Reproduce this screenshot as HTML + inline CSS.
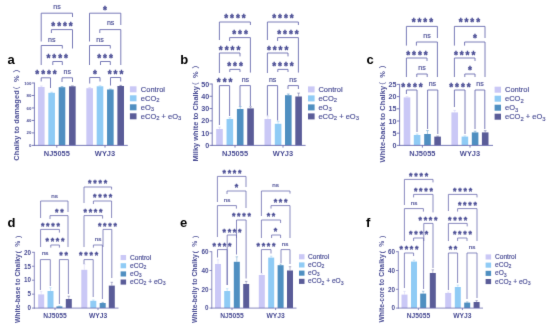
<!DOCTYPE html>
<html><head><meta charset="utf-8"><title>Chalkiness figure</title>
<style>html,body{margin:0;padding:0;background:#fff}svg{display:block}text{font-family:"Liberation Sans","Noto Sans CJK SC",sans-serif;}</style>
</head><body>
<svg width="550" height="330" viewBox="0 0 550 330">
<defs><filter id="soft" x="0" y="0" width="550" height="330" filterUnits="userSpaceOnUse" color-interpolation-filters="sRGB"><feConvolveMatrix order="3" kernelMatrix="0.0074 0.0713 0.0074 0.0713 0.6853 0.0713 0.0074 0.0713 0.0074" edgeMode="duplicate" preserveAlpha="true"/></filter></defs>
<g filter="url(#soft)">
<rect width="550" height="330" fill="#ffffff"/>
<line x1="41.3" y1="87" x2="41.3" y2="86" stroke="#cac8f6" stroke-width="0.5"/>
<line x1="39.9" y1="86" x2="42.7" y2="86" stroke="#cac8f6" stroke-width="0.5"/>
<rect x="38" y="87" width="6.6" height="58.4" fill="#cac8f6"/>
<line x1="51.65" y1="92.8" x2="51.65" y2="92.2" stroke="#8fcbf5" stroke-width="0.5"/>
<line x1="50.25" y1="92.2" x2="53.05" y2="92.2" stroke="#8fcbf5" stroke-width="0.5"/>
<rect x="48.35" y="92.8" width="6.6" height="52.6" fill="#8fcbf5"/>
<line x1="62" y1="87.2" x2="62" y2="86.6" stroke="#4f8fc1" stroke-width="0.5"/>
<line x1="60.6" y1="86.6" x2="63.4" y2="86.6" stroke="#4f8fc1" stroke-width="0.5"/>
<rect x="58.7" y="87.2" width="6.6" height="58.2" fill="#4f8fc1"/>
<line x1="72.35" y1="86.3" x2="72.35" y2="85.9" stroke="#5a5c98" stroke-width="0.5"/>
<line x1="70.95" y1="85.9" x2="73.75" y2="85.9" stroke="#5a5c98" stroke-width="0.5"/>
<rect x="69.05" y="86.3" width="6.6" height="59.1" fill="#5a5c98"/>
<line x1="89.65" y1="88.2" x2="89.65" y2="87.6" stroke="#cac8f6" stroke-width="0.5"/>
<line x1="88.25" y1="87.6" x2="91.05" y2="87.6" stroke="#cac8f6" stroke-width="0.5"/>
<rect x="86.35" y="88.2" width="6.6" height="57.2" fill="#cac8f6"/>
<line x1="100" y1="86.3" x2="100" y2="85.8" stroke="#8fcbf5" stroke-width="0.5"/>
<line x1="98.6" y1="85.8" x2="101.4" y2="85.8" stroke="#8fcbf5" stroke-width="0.5"/>
<rect x="96.7" y="86.3" width="6.6" height="59.1" fill="#8fcbf5"/>
<line x1="110.35" y1="89.5" x2="110.35" y2="89.1" stroke="#4f8fc1" stroke-width="0.5"/>
<line x1="108.95" y1="89.1" x2="111.75" y2="89.1" stroke="#4f8fc1" stroke-width="0.5"/>
<rect x="107.05" y="89.5" width="6.6" height="55.9" fill="#4f8fc1"/>
<line x1="120.7" y1="86" x2="120.7" y2="85.4" stroke="#5a5c98" stroke-width="0.5"/>
<line x1="119.3" y1="85.4" x2="122.1" y2="85.4" stroke="#5a5c98" stroke-width="0.5"/>
<rect x="117.4" y="86" width="6.6" height="59.4" fill="#5a5c98"/>
<line x1="34.4" y1="82.55" x2="34.4" y2="145.85" stroke="#6b6db0" stroke-width="0.9"/>
<line x1="33.95" y1="145.4" x2="127.8" y2="145.4" stroke="#6b6db0" stroke-width="0.9"/>
<line x1="31.8" y1="145.4" x2="34.4" y2="145.4" stroke="#6b6db0" stroke-width="0.9"/>
<text x="31.4" y="146.95" font-size="4.3" text-anchor="end" font-weight="bold" fill="#494c94">0</text>
<line x1="31.8" y1="132.92" x2="34.4" y2="132.92" stroke="#6b6db0" stroke-width="0.9"/>
<text x="31.4" y="134.47" font-size="4.3" text-anchor="end" font-weight="bold" fill="#494c94">20</text>
<line x1="31.8" y1="120.44" x2="34.4" y2="120.44" stroke="#6b6db0" stroke-width="0.9"/>
<text x="31.4" y="121.99" font-size="4.3" text-anchor="end" font-weight="bold" fill="#494c94">40</text>
<line x1="31.8" y1="107.96" x2="34.4" y2="107.96" stroke="#6b6db0" stroke-width="0.9"/>
<text x="31.4" y="109.51" font-size="4.3" text-anchor="end" font-weight="bold" fill="#494c94">60</text>
<line x1="31.8" y1="95.48" x2="34.4" y2="95.48" stroke="#6b6db0" stroke-width="0.9"/>
<text x="31.4" y="97.03" font-size="4.3" text-anchor="end" font-weight="bold" fill="#494c94">80</text>
<line x1="31.8" y1="83" x2="34.4" y2="83" stroke="#6b6db0" stroke-width="0.9"/>
<text x="31.4" y="84.55" font-size="4.3" text-anchor="end" font-weight="bold" fill="#494c94">100</text>
<line x1="56.8" y1="145.4" x2="56.8" y2="147.6" stroke="#6b6db0" stroke-width="0.9"/>
<text x="56.8" y="155.6" font-size="7.45" text-anchor="middle" font-weight="bold" fill="#494c94">NJ5055</text>
<line x1="105" y1="145.4" x2="105" y2="147.6" stroke="#6b6db0" stroke-width="0.9"/>
<text x="105" y="155.6" font-size="7.45" text-anchor="middle" font-weight="bold" fill="#494c94">WYJ3</text>
<text transform="translate(19.3 160.7) rotate(-90)" font-size="7.45" font-weight="bold" fill="#494c94" textLength="70.4" lengthAdjust="spacing">Chalky to damaged</text>
<g transform="translate(19.3 90.2) rotate(-90)" font-size="7.45" fill="#494c94"><text x="-3.56" y="1" font-weight="bold">（</text><text x="8.12" y="0" font-weight="bold">%</text><text x="17.38" y="1" font-weight="bold">）</text></g>
<path d="M41.2 41.5V13.2H72.5V17" fill="none" stroke="#6b6db0" stroke-width="0.9"/>
<text x="57" y="9.42" font-size="7" text-anchor="middle" fill="#494c94" stroke="#494c94" stroke-width="0.15">ns</text>
<path d="M51.4 33V29.6H72.5V48.5" fill="none" stroke="#6b6db0" stroke-width="0.9"/>
<text x="53.23" y="30.2" font-size="10" text-anchor="middle" font-weight="bold" fill="#494c94" stroke="#494c94" stroke-width="0.35">*</text>
<text x="59.08" y="30.2" font-size="10" text-anchor="middle" font-weight="bold" fill="#494c94" stroke="#494c94" stroke-width="0.35">*</text>
<text x="64.92" y="30.2" font-size="10" text-anchor="middle" font-weight="bold" fill="#494c94" stroke="#494c94" stroke-width="0.35">*</text>
<text x="70.78" y="30.2" font-size="10" text-anchor="middle" font-weight="bold" fill="#494c94" stroke="#494c94" stroke-width="0.35">*</text>
<path d="M41.2 65V45.5H62.3V48.5" fill="none" stroke="#6b6db0" stroke-width="0.9"/>
<text x="51.8" y="41.82" font-size="7" text-anchor="middle" fill="#494c94" stroke="#494c94" stroke-width="0.15">ns</text>
<path d="M52.8 65V61.5H62.3V65" fill="none" stroke="#6b6db0" stroke-width="0.9"/>
<text x="48.43" y="62.2" font-size="10" text-anchor="middle" font-weight="bold" fill="#494c94" stroke="#494c94" stroke-width="0.35">*</text>
<text x="54.28" y="62.2" font-size="10" text-anchor="middle" font-weight="bold" fill="#494c94" stroke="#494c94" stroke-width="0.35">*</text>
<text x="60.12" y="62.2" font-size="10" text-anchor="middle" font-weight="bold" fill="#494c94" stroke="#494c94" stroke-width="0.35">*</text>
<text x="65.97" y="62.2" font-size="10" text-anchor="middle" font-weight="bold" fill="#494c94" stroke="#494c94" stroke-width="0.35">*</text>
<path d="M41.2 81.5V77.8H50.5V88" fill="none" stroke="#6b6db0" stroke-width="0.9"/>
<text x="37.23" y="78.4" font-size="10" text-anchor="middle" font-weight="bold" fill="#494c94" stroke="#494c94" stroke-width="0.35">*</text>
<text x="43.08" y="78.4" font-size="10" text-anchor="middle" font-weight="bold" fill="#494c94" stroke="#494c94" stroke-width="0.35">*</text>
<text x="48.92" y="78.4" font-size="10" text-anchor="middle" font-weight="bold" fill="#494c94" stroke="#494c94" stroke-width="0.35">*</text>
<text x="54.77" y="78.4" font-size="10" text-anchor="middle" font-weight="bold" fill="#494c94" stroke="#494c94" stroke-width="0.35">*</text>
<path d="M62 82V77.8H72.5V82" fill="none" stroke="#6b6db0" stroke-width="0.9"/>
<text x="67.2" y="74.32" font-size="7" text-anchor="middle" fill="#494c94" stroke="#494c94" stroke-width="0.15">ns</text>
<path d="M89.5 41.5V13.2H120.8V25" fill="none" stroke="#6b6db0" stroke-width="0.9"/>
<text x="105" y="13.8" font-size="10" text-anchor="middle" font-weight="bold" fill="#494c94" stroke="#494c94" stroke-width="0.35">*</text>
<path d="M99.8 33V29.6H120.8V65" fill="none" stroke="#6b6db0" stroke-width="0.9"/>
<text x="110.6" y="25.42" font-size="7" text-anchor="middle" fill="#494c94" stroke="#494c94" stroke-width="0.15">ns</text>
<path d="M89.5 65V45.5H110.3V48.5" fill="none" stroke="#6b6db0" stroke-width="0.9"/>
<text x="100" y="41.82" font-size="7" text-anchor="middle" fill="#494c94" stroke="#494c94" stroke-width="0.15">ns</text>
<path d="M100.5 65V61.5H110.3V65" fill="none" stroke="#6b6db0" stroke-width="0.9"/>
<text x="99.15" y="62.2" font-size="10" text-anchor="middle" font-weight="bold" fill="#494c94" stroke="#494c94" stroke-width="0.35">*</text>
<text x="105" y="62.2" font-size="10" text-anchor="middle" font-weight="bold" fill="#494c94" stroke="#494c94" stroke-width="0.35">*</text>
<text x="110.85" y="62.2" font-size="10" text-anchor="middle" font-weight="bold" fill="#494c94" stroke="#494c94" stroke-width="0.35">*</text>
<path d="M89.7 83.5V77.5H100V81.5" fill="none" stroke="#6b6db0" stroke-width="0.9"/>
<text x="95" y="78.2" font-size="10" text-anchor="middle" font-weight="bold" fill="#494c94" stroke="#494c94" stroke-width="0.35">*</text>
<path d="M110.5 85.5V77.5H120.7V81.5" fill="none" stroke="#6b6db0" stroke-width="0.9"/>
<text x="109.65" y="78.2" font-size="10" text-anchor="middle" font-weight="bold" fill="#494c94" stroke="#494c94" stroke-width="0.35">*</text>
<text x="115.5" y="78.2" font-size="10" text-anchor="middle" font-weight="bold" fill="#494c94" stroke="#494c94" stroke-width="0.35">*</text>
<text x="121.35" y="78.2" font-size="10" text-anchor="middle" font-weight="bold" fill="#494c94" stroke="#494c94" stroke-width="0.35">*</text>
<rect x="129.9" y="86.3" width="6.6" height="6" fill="#cac8f6"/>
<text x="140.8" y="91.6" font-size="7.5" text-anchor="start" fill="#494c94" stroke="#494c94" stroke-width="0.15">Control</text>
<rect x="129.9" y="95.3" width="6.6" height="6" fill="#8fcbf5"/>
<text x="140.8" y="100.6" font-size="7.5" text-anchor="start" fill="#494c94" stroke="#494c94" stroke-width="0.15">eCO<tspan font-size="5.85" dy="1.5">2</tspan></text>
<rect x="129.9" y="104.3" width="6.6" height="6" fill="#4f8fc1"/>
<text x="140.8" y="109.6" font-size="7.5" text-anchor="start" fill="#494c94" stroke="#494c94" stroke-width="0.15">eO<tspan font-size="5.85" dy="1.5">3</tspan></text>
<rect x="129.9" y="113.3" width="6.6" height="6" fill="#5a5c98"/>
<text x="140.8" y="118.6" font-size="7.5" text-anchor="start" fill="#494c94" stroke="#494c94" stroke-width="0.15">eCO<tspan font-size="5.85" dy="1.5">2</tspan><tspan dy="-1.5"> + eO</tspan><tspan font-size="5.85" dy="1.5">3</tspan></text>
<text x="7.5" y="63.7" font-size="13" text-anchor="start" font-weight="bold" fill="#000">a</text>
<line x1="219.5" y1="129" x2="219.5" y2="127.2" stroke="#cac8f6" stroke-width="0.5"/>
<line x1="218.1" y1="127.2" x2="220.9" y2="127.2" stroke="#cac8f6" stroke-width="0.5"/>
<rect x="216.2" y="129" width="6.6" height="16.4" fill="#cac8f6"/>
<line x1="229.85" y1="119" x2="229.85" y2="117.8" stroke="#8fcbf5" stroke-width="0.5"/>
<line x1="228.45" y1="117.8" x2="231.25" y2="117.8" stroke="#8fcbf5" stroke-width="0.5"/>
<rect x="226.55" y="119" width="6.6" height="26.4" fill="#8fcbf5"/>
<line x1="240.2" y1="109" x2="240.2" y2="106.5" stroke="#4f8fc1" stroke-width="0.5"/>
<line x1="238.8" y1="106.5" x2="241.6" y2="106.5" stroke="#4f8fc1" stroke-width="0.5"/>
<rect x="236.9" y="109" width="6.6" height="36.4" fill="#4f8fc1"/>
<line x1="250.55" y1="108.4" x2="250.55" y2="106.8" stroke="#5a5c98" stroke-width="0.5"/>
<line x1="249.15" y1="106.8" x2="251.95" y2="106.8" stroke="#5a5c98" stroke-width="0.5"/>
<rect x="247.25" y="108.4" width="6.6" height="37" fill="#5a5c98"/>
<line x1="267.8" y1="119" x2="267.8" y2="116" stroke="#cac8f6" stroke-width="0.5"/>
<line x1="266.4" y1="116" x2="269.2" y2="116" stroke="#cac8f6" stroke-width="0.5"/>
<rect x="264.5" y="119" width="6.6" height="26.4" fill="#cac8f6"/>
<line x1="278.1" y1="123.8" x2="278.1" y2="121.3" stroke="#8fcbf5" stroke-width="0.5"/>
<line x1="276.7" y1="121.3" x2="279.5" y2="121.3" stroke="#8fcbf5" stroke-width="0.5"/>
<rect x="274.8" y="123.8" width="6.6" height="21.6" fill="#8fcbf5"/>
<line x1="288.3" y1="95.2" x2="288.3" y2="94" stroke="#4f8fc1" stroke-width="0.5"/>
<line x1="286.9" y1="94" x2="289.7" y2="94" stroke="#4f8fc1" stroke-width="0.5"/>
<rect x="285" y="95.2" width="6.6" height="50.2" fill="#4f8fc1"/>
<line x1="298.6" y1="96.5" x2="298.6" y2="93.1" stroke="#5a5c98" stroke-width="0.5"/>
<line x1="297.2" y1="93.1" x2="300" y2="93.1" stroke="#5a5c98" stroke-width="0.5"/>
<rect x="295.3" y="96.5" width="6.6" height="48.9" fill="#5a5c98"/>
<line x1="212.2" y1="83.55" x2="212.2" y2="145.85" stroke="#6b6db0" stroke-width="0.9"/>
<line x1="211.75" y1="145.4" x2="305.6" y2="145.4" stroke="#6b6db0" stroke-width="0.9"/>
<line x1="209.6" y1="145.4" x2="212.2" y2="145.4" stroke="#6b6db0" stroke-width="0.9"/>
<text x="209.2" y="147.99" font-size="7.2" text-anchor="end" font-weight="bold" fill="#494c94">0</text>
<line x1="209.6" y1="133.12" x2="212.2" y2="133.12" stroke="#6b6db0" stroke-width="0.9"/>
<text x="209.2" y="135.71" font-size="7.2" text-anchor="end" font-weight="bold" fill="#494c94">10</text>
<line x1="209.6" y1="120.84" x2="212.2" y2="120.84" stroke="#6b6db0" stroke-width="0.9"/>
<text x="209.2" y="123.43" font-size="7.2" text-anchor="end" font-weight="bold" fill="#494c94">20</text>
<line x1="209.6" y1="108.56" x2="212.2" y2="108.56" stroke="#6b6db0" stroke-width="0.9"/>
<text x="209.2" y="111.15" font-size="7.2" text-anchor="end" font-weight="bold" fill="#494c94">30</text>
<line x1="209.6" y1="96.28" x2="212.2" y2="96.28" stroke="#6b6db0" stroke-width="0.9"/>
<text x="209.2" y="98.87" font-size="7.2" text-anchor="end" font-weight="bold" fill="#494c94">40</text>
<line x1="209.6" y1="84" x2="212.2" y2="84" stroke="#6b6db0" stroke-width="0.9"/>
<text x="209.2" y="86.59" font-size="7.2" text-anchor="end" font-weight="bold" fill="#494c94">50</text>
<line x1="235" y1="145.4" x2="235" y2="147.6" stroke="#6b6db0" stroke-width="0.9"/>
<text x="235" y="155.6" font-size="7.45" text-anchor="middle" font-weight="bold" fill="#494c94">NJ5055</text>
<line x1="283" y1="145.4" x2="283" y2="147.6" stroke="#6b6db0" stroke-width="0.9"/>
<text x="283" y="155.6" font-size="7.45" text-anchor="middle" font-weight="bold" fill="#494c94">WYJ3</text>
<text transform="translate(197.9 161.4) rotate(-90)" font-size="7.45" font-weight="bold" fill="#494c94" textLength="75.3" lengthAdjust="spacing">Milky white to Chalky</text>
<g transform="translate(197.9 86) rotate(-90)" font-size="7.45" fill="#494c94"><text x="-3.56" y="1" font-weight="bold">（</text><text x="8.12" y="0" font-weight="bold">%</text><text x="17.38" y="1" font-weight="bold">）</text></g>
<path d="M219.4 40V22H250.4V25" fill="none" stroke="#6b6db0" stroke-width="0.9"/>
<text x="226.22" y="21.8" font-size="10" text-anchor="middle" font-weight="bold" fill="#494c94" stroke="#494c94" stroke-width="0.35">*</text>
<text x="232.07" y="21.8" font-size="10" text-anchor="middle" font-weight="bold" fill="#494c94" stroke="#494c94" stroke-width="0.35">*</text>
<text x="237.93" y="21.8" font-size="10" text-anchor="middle" font-weight="bold" fill="#494c94" stroke="#494c94" stroke-width="0.35">*</text>
<text x="243.78" y="21.8" font-size="10" text-anchor="middle" font-weight="bold" fill="#494c94" stroke="#494c94" stroke-width="0.35">*</text>
<path d="M229.6 41V37.6H250.4V72.6" fill="none" stroke="#6b6db0" stroke-width="0.9"/>
<text x="234.15" y="37.6" font-size="10" text-anchor="middle" font-weight="bold" fill="#494c94" stroke="#494c94" stroke-width="0.35">*</text>
<text x="240" y="37.6" font-size="10" text-anchor="middle" font-weight="bold" fill="#494c94" stroke="#494c94" stroke-width="0.35">*</text>
<text x="245.85" y="37.6" font-size="10" text-anchor="middle" font-weight="bold" fill="#494c94" stroke="#494c94" stroke-width="0.35">*</text>
<path d="M219.4 73V53H240V56.4" fill="none" stroke="#6b6db0" stroke-width="0.9"/>
<text x="220.82" y="53.8" font-size="10" text-anchor="middle" font-weight="bold" fill="#494c94" stroke="#494c94" stroke-width="0.35">*</text>
<text x="226.67" y="53.8" font-size="10" text-anchor="middle" font-weight="bold" fill="#494c94" stroke="#494c94" stroke-width="0.35">*</text>
<text x="232.53" y="53.8" font-size="10" text-anchor="middle" font-weight="bold" fill="#494c94" stroke="#494c94" stroke-width="0.35">*</text>
<text x="238.38" y="53.8" font-size="10" text-anchor="middle" font-weight="bold" fill="#494c94" stroke="#494c94" stroke-width="0.35">*</text>
<path d="M229.8 72V69.4H240V72" fill="none" stroke="#6b6db0" stroke-width="0.9"/>
<text x="229.15" y="70.2" font-size="10" text-anchor="middle" font-weight="bold" fill="#494c94" stroke="#494c94" stroke-width="0.35">*</text>
<text x="235" y="70.2" font-size="10" text-anchor="middle" font-weight="bold" fill="#494c94" stroke="#494c94" stroke-width="0.35">*</text>
<text x="240.85" y="70.2" font-size="10" text-anchor="middle" font-weight="bold" fill="#494c94" stroke="#494c94" stroke-width="0.35">*</text>
<path d="M219.4 125V85.6H229.6V116" fill="none" stroke="#6b6db0" stroke-width="0.9"/>
<text x="218.75" y="86.2" font-size="10" text-anchor="middle" font-weight="bold" fill="#494c94" stroke="#494c94" stroke-width="0.35">*</text>
<text x="224.6" y="86.2" font-size="10" text-anchor="middle" font-weight="bold" fill="#494c94" stroke="#494c94" stroke-width="0.35">*</text>
<text x="230.45" y="86.2" font-size="10" text-anchor="middle" font-weight="bold" fill="#494c94" stroke="#494c94" stroke-width="0.35">*</text>
<path d="M240 106V85.6H250.4V106" fill="none" stroke="#6b6db0" stroke-width="0.9"/>
<text x="245.4" y="81.82" font-size="7" text-anchor="middle" fill="#494c94" stroke="#494c94" stroke-width="0.15">ns</text>
<path d="M267.4 40V22H298.4V25" fill="none" stroke="#6b6db0" stroke-width="0.9"/>
<text x="274.23" y="21.8" font-size="10" text-anchor="middle" font-weight="bold" fill="#494c94" stroke="#494c94" stroke-width="0.35">*</text>
<text x="280.07" y="21.8" font-size="10" text-anchor="middle" font-weight="bold" fill="#494c94" stroke="#494c94" stroke-width="0.35">*</text>
<text x="285.93" y="21.8" font-size="10" text-anchor="middle" font-weight="bold" fill="#494c94" stroke="#494c94" stroke-width="0.35">*</text>
<text x="291.77" y="21.8" font-size="10" text-anchor="middle" font-weight="bold" fill="#494c94" stroke="#494c94" stroke-width="0.35">*</text>
<path d="M277.6 41V37.6H298.4V72.6" fill="none" stroke="#6b6db0" stroke-width="0.9"/>
<text x="279.23" y="37.6" font-size="10" text-anchor="middle" font-weight="bold" fill="#494c94" stroke="#494c94" stroke-width="0.35">*</text>
<text x="285.07" y="37.6" font-size="10" text-anchor="middle" font-weight="bold" fill="#494c94" stroke="#494c94" stroke-width="0.35">*</text>
<text x="290.93" y="37.6" font-size="10" text-anchor="middle" font-weight="bold" fill="#494c94" stroke="#494c94" stroke-width="0.35">*</text>
<text x="296.77" y="37.6" font-size="10" text-anchor="middle" font-weight="bold" fill="#494c94" stroke="#494c94" stroke-width="0.35">*</text>
<path d="M267.4 73V53H288V56.4" fill="none" stroke="#6b6db0" stroke-width="0.9"/>
<text x="268.83" y="53.8" font-size="10" text-anchor="middle" font-weight="bold" fill="#494c94" stroke="#494c94" stroke-width="0.35">*</text>
<text x="274.68" y="53.8" font-size="10" text-anchor="middle" font-weight="bold" fill="#494c94" stroke="#494c94" stroke-width="0.35">*</text>
<text x="280.53" y="53.8" font-size="10" text-anchor="middle" font-weight="bold" fill="#494c94" stroke="#494c94" stroke-width="0.35">*</text>
<text x="286.38" y="53.8" font-size="10" text-anchor="middle" font-weight="bold" fill="#494c94" stroke="#494c94" stroke-width="0.35">*</text>
<path d="M277.8 72V69.4H288V72" fill="none" stroke="#6b6db0" stroke-width="0.9"/>
<text x="274.23" y="70.2" font-size="10" text-anchor="middle" font-weight="bold" fill="#494c94" stroke="#494c94" stroke-width="0.35">*</text>
<text x="280.07" y="70.2" font-size="10" text-anchor="middle" font-weight="bold" fill="#494c94" stroke="#494c94" stroke-width="0.35">*</text>
<text x="285.93" y="70.2" font-size="10" text-anchor="middle" font-weight="bold" fill="#494c94" stroke="#494c94" stroke-width="0.35">*</text>
<text x="291.77" y="70.2" font-size="10" text-anchor="middle" font-weight="bold" fill="#494c94" stroke="#494c94" stroke-width="0.35">*</text>
<path d="M267.4 115.5V85.6H277.6V120.5" fill="none" stroke="#6b6db0" stroke-width="0.9"/>
<text x="272.6" y="81.82" font-size="7" text-anchor="middle" fill="#494c94" stroke="#494c94" stroke-width="0.15">ns</text>
<path d="M288 89V85.6H298.4V89" fill="none" stroke="#6b6db0" stroke-width="0.9"/>
<text x="293" y="81.82" font-size="7" text-anchor="middle" fill="#494c94" stroke="#494c94" stroke-width="0.15">ns</text>
<rect x="308" y="86.4" width="6.6" height="6" fill="#cac8f6"/>
<text x="318.4" y="91.7" font-size="7.5" text-anchor="start" fill="#494c94" stroke="#494c94" stroke-width="0.15">Control</text>
<rect x="308" y="95.4" width="6.6" height="6" fill="#8fcbf5"/>
<text x="318.4" y="100.7" font-size="7.5" text-anchor="start" fill="#494c94" stroke="#494c94" stroke-width="0.15">eCO<tspan font-size="5.85" dy="1.5">2</tspan></text>
<rect x="308" y="104.4" width="6.6" height="6" fill="#4f8fc1"/>
<text x="318.4" y="109.7" font-size="7.5" text-anchor="start" fill="#494c94" stroke="#494c94" stroke-width="0.15">eO<tspan font-size="5.85" dy="1.5">3</tspan></text>
<rect x="308" y="113.4" width="6.6" height="6" fill="#5a5c98"/>
<text x="318.4" y="118.7" font-size="7.5" text-anchor="start" fill="#494c94" stroke="#494c94" stroke-width="0.15">eCO<tspan font-size="5.85" dy="1.5">2</tspan><tspan dy="-1.5"> + eO</tspan><tspan font-size="5.85" dy="1.5">3</tspan></text>
<text x="180.2" y="63.7" font-size="13" text-anchor="start" font-weight="bold" fill="#000">b</text>
<line x1="407" y1="97.4" x2="407" y2="96.7" stroke="#cac8f6" stroke-width="0.5"/>
<line x1="405.6" y1="96.7" x2="408.4" y2="96.7" stroke="#cac8f6" stroke-width="0.5"/>
<rect x="403.7" y="97.4" width="6.6" height="48" fill="#cac8f6"/>
<line x1="417.1" y1="135" x2="417.1" y2="134" stroke="#8fcbf5" stroke-width="0.5"/>
<line x1="415.7" y1="134" x2="418.5" y2="134" stroke="#8fcbf5" stroke-width="0.5"/>
<rect x="413.8" y="135" width="6.6" height="10.4" fill="#8fcbf5"/>
<line x1="427.5" y1="134" x2="427.5" y2="130.6" stroke="#4f8fc1" stroke-width="0.5"/>
<line x1="426.1" y1="130.6" x2="428.9" y2="130.6" stroke="#4f8fc1" stroke-width="0.5"/>
<rect x="424.2" y="134" width="6.6" height="11.4" fill="#4f8fc1"/>
<line x1="437.6" y1="136.6" x2="437.6" y2="136.1" stroke="#5a5c98" stroke-width="0.5"/>
<line x1="436.2" y1="136.1" x2="439" y2="136.1" stroke="#5a5c98" stroke-width="0.5"/>
<rect x="434.3" y="136.6" width="6.6" height="8.8" fill="#5a5c98"/>
<line x1="454.7" y1="112.4" x2="454.7" y2="110.4" stroke="#cac8f6" stroke-width="0.5"/>
<line x1="453.3" y1="110.4" x2="456.1" y2="110.4" stroke="#cac8f6" stroke-width="0.5"/>
<rect x="451.4" y="112.4" width="6.6" height="33" fill="#cac8f6"/>
<line x1="464.9" y1="136.6" x2="464.9" y2="135.9" stroke="#8fcbf5" stroke-width="0.5"/>
<line x1="463.5" y1="135.9" x2="466.3" y2="135.9" stroke="#8fcbf5" stroke-width="0.5"/>
<rect x="461.6" y="136.6" width="6.6" height="8.8" fill="#8fcbf5"/>
<line x1="475.1" y1="132.4" x2="475.1" y2="131.2" stroke="#4f8fc1" stroke-width="0.5"/>
<line x1="473.7" y1="131.2" x2="476.5" y2="131.2" stroke="#4f8fc1" stroke-width="0.5"/>
<rect x="471.8" y="132.4" width="6.6" height="13" fill="#4f8fc1"/>
<line x1="485.2" y1="132.4" x2="485.2" y2="130.7" stroke="#5a5c98" stroke-width="0.5"/>
<line x1="483.8" y1="130.7" x2="486.6" y2="130.7" stroke="#5a5c98" stroke-width="0.5"/>
<rect x="481.9" y="132.4" width="6.6" height="13" fill="#5a5c98"/>
<line x1="399.6" y1="83.95" x2="399.6" y2="145.85" stroke="#6b6db0" stroke-width="0.9"/>
<line x1="399.15" y1="145.4" x2="493" y2="145.4" stroke="#6b6db0" stroke-width="0.9"/>
<line x1="397" y1="145.4" x2="399.6" y2="145.4" stroke="#6b6db0" stroke-width="0.9"/>
<text x="396.6" y="147.99" font-size="7.2" text-anchor="end" font-weight="bold" fill="#494c94">0</text>
<line x1="397" y1="133.2" x2="399.6" y2="133.2" stroke="#6b6db0" stroke-width="0.9"/>
<text x="396.6" y="135.79" font-size="7.2" text-anchor="end" font-weight="bold" fill="#494c94">5</text>
<line x1="397" y1="121" x2="399.6" y2="121" stroke="#6b6db0" stroke-width="0.9"/>
<text x="396.6" y="123.59" font-size="7.2" text-anchor="end" font-weight="bold" fill="#494c94">10</text>
<line x1="397" y1="108.8" x2="399.6" y2="108.8" stroke="#6b6db0" stroke-width="0.9"/>
<text x="396.6" y="111.39" font-size="7.2" text-anchor="end" font-weight="bold" fill="#494c94">15</text>
<line x1="397" y1="96.6" x2="399.6" y2="96.6" stroke="#6b6db0" stroke-width="0.9"/>
<text x="396.6" y="99.19" font-size="7.2" text-anchor="end" font-weight="bold" fill="#494c94">20</text>
<line x1="397" y1="84.4" x2="399.6" y2="84.4" stroke="#6b6db0" stroke-width="0.9"/>
<text x="396.6" y="86.99" font-size="7.2" text-anchor="end" font-weight="bold" fill="#494c94">25</text>
<line x1="422.4" y1="145.4" x2="422.4" y2="147.6" stroke="#6b6db0" stroke-width="0.9"/>
<text x="422.4" y="155.6" font-size="7.45" text-anchor="middle" font-weight="bold" fill="#494c94">NJ5055</text>
<line x1="470" y1="145.4" x2="470" y2="147.6" stroke="#6b6db0" stroke-width="0.9"/>
<text x="470" y="155.6" font-size="7.45" text-anchor="middle" font-weight="bold" fill="#494c94">WYJ3</text>
<text transform="translate(385.3 162.4) rotate(-90)" font-size="7.45" font-weight="bold" fill="#494c94" textLength="76.5" lengthAdjust="spacing">White-back to Chalky</text>
<g transform="translate(385.3 85.8) rotate(-90)" font-size="7.45" fill="#494c94"><text x="-3.56" y="1" font-weight="bold">（</text><text x="8.12" y="0" font-weight="bold">%</text><text x="17.38" y="1" font-weight="bold">）</text></g>
<path d="M406.4 45.6V26.4H437.4V38" fill="none" stroke="#6b6db0" stroke-width="0.9"/>
<text x="413.62" y="26.2" font-size="10" text-anchor="middle" font-weight="bold" fill="#494c94" stroke="#494c94" stroke-width="0.35">*</text>
<text x="419.47" y="26.2" font-size="10" text-anchor="middle" font-weight="bold" fill="#494c94" stroke="#494c94" stroke-width="0.35">*</text>
<text x="425.32" y="26.2" font-size="10" text-anchor="middle" font-weight="bold" fill="#494c94" stroke="#494c94" stroke-width="0.35">*</text>
<text x="431.17" y="26.2" font-size="10" text-anchor="middle" font-weight="bold" fill="#494c94" stroke="#494c94" stroke-width="0.35">*</text>
<path d="M416.4 45.6V42H437.4V77" fill="none" stroke="#6b6db0" stroke-width="0.9"/>
<text x="427" y="37.82" font-size="7" text-anchor="middle" fill="#494c94" stroke="#494c94" stroke-width="0.15">ns</text>
<path d="M406.4 77V58H427V61" fill="none" stroke="#6b6db0" stroke-width="0.9"/>
<text x="408.23" y="58.6" font-size="10" text-anchor="middle" font-weight="bold" fill="#494c94" stroke="#494c94" stroke-width="0.35">*</text>
<text x="414.07" y="58.6" font-size="10" text-anchor="middle" font-weight="bold" fill="#494c94" stroke="#494c94" stroke-width="0.35">*</text>
<text x="419.93" y="58.6" font-size="10" text-anchor="middle" font-weight="bold" fill="#494c94" stroke="#494c94" stroke-width="0.35">*</text>
<text x="425.77" y="58.6" font-size="10" text-anchor="middle" font-weight="bold" fill="#494c94" stroke="#494c94" stroke-width="0.35">*</text>
<path d="M416.8 77V74H427.2V77" fill="none" stroke="#6b6db0" stroke-width="0.9"/>
<text x="422" y="69.82" font-size="7" text-anchor="middle" fill="#494c94" stroke="#494c94" stroke-width="0.15">ns</text>
<path d="M406.4 94V90H417V132" fill="none" stroke="#6b6db0" stroke-width="0.9"/>
<text x="403.23" y="90.6" font-size="10" text-anchor="middle" font-weight="bold" fill="#494c94" stroke="#494c94" stroke-width="0.35">*</text>
<text x="409.07" y="90.6" font-size="10" text-anchor="middle" font-weight="bold" fill="#494c94" stroke="#494c94" stroke-width="0.35">*</text>
<text x="414.93" y="90.6" font-size="10" text-anchor="middle" font-weight="bold" fill="#494c94" stroke="#494c94" stroke-width="0.35">*</text>
<text x="420.77" y="90.6" font-size="10" text-anchor="middle" font-weight="bold" fill="#494c94" stroke="#494c94" stroke-width="0.35">*</text>
<path d="M427.6 129V90H437.8V134" fill="none" stroke="#6b6db0" stroke-width="0.9"/>
<text x="432.4" y="86.22" font-size="7" text-anchor="middle" fill="#494c94" stroke="#494c94" stroke-width="0.15">ns</text>
<path d="M454.4 45.6V26.4H485V38" fill="none" stroke="#6b6db0" stroke-width="0.9"/>
<text x="460.62" y="26.2" font-size="10" text-anchor="middle" font-weight="bold" fill="#494c94" stroke="#494c94" stroke-width="0.35">*</text>
<text x="466.47" y="26.2" font-size="10" text-anchor="middle" font-weight="bold" fill="#494c94" stroke="#494c94" stroke-width="0.35">*</text>
<text x="472.32" y="26.2" font-size="10" text-anchor="middle" font-weight="bold" fill="#494c94" stroke="#494c94" stroke-width="0.35">*</text>
<text x="478.17" y="26.2" font-size="10" text-anchor="middle" font-weight="bold" fill="#494c94" stroke="#494c94" stroke-width="0.35">*</text>
<path d="M464.6 45.6V42H485V77" fill="none" stroke="#6b6db0" stroke-width="0.9"/>
<text x="475" y="42.2" font-size="10" text-anchor="middle" font-weight="bold" fill="#494c94" stroke="#494c94" stroke-width="0.35">*</text>
<path d="M454.4 77V58H475V61" fill="none" stroke="#6b6db0" stroke-width="0.9"/>
<text x="455.83" y="58.6" font-size="10" text-anchor="middle" font-weight="bold" fill="#494c94" stroke="#494c94" stroke-width="0.35">*</text>
<text x="461.68" y="58.6" font-size="10" text-anchor="middle" font-weight="bold" fill="#494c94" stroke="#494c94" stroke-width="0.35">*</text>
<text x="467.53" y="58.6" font-size="10" text-anchor="middle" font-weight="bold" fill="#494c94" stroke="#494c94" stroke-width="0.35">*</text>
<text x="473.38" y="58.6" font-size="10" text-anchor="middle" font-weight="bold" fill="#494c94" stroke="#494c94" stroke-width="0.35">*</text>
<path d="M464.8 77V74H475V77" fill="none" stroke="#6b6db0" stroke-width="0.9"/>
<text x="470" y="74.2" font-size="10" text-anchor="middle" font-weight="bold" fill="#494c94" stroke="#494c94" stroke-width="0.35">*</text>
<path d="M454.4 107V90H465V134" fill="none" stroke="#6b6db0" stroke-width="0.9"/>
<text x="451.23" y="90.6" font-size="10" text-anchor="middle" font-weight="bold" fill="#494c94" stroke="#494c94" stroke-width="0.35">*</text>
<text x="457.07" y="90.6" font-size="10" text-anchor="middle" font-weight="bold" fill="#494c94" stroke="#494c94" stroke-width="0.35">*</text>
<text x="462.93" y="90.6" font-size="10" text-anchor="middle" font-weight="bold" fill="#494c94" stroke="#494c94" stroke-width="0.35">*</text>
<text x="468.77" y="90.6" font-size="10" text-anchor="middle" font-weight="bold" fill="#494c94" stroke="#494c94" stroke-width="0.35">*</text>
<path d="M475 129V90H484.8V129" fill="none" stroke="#6b6db0" stroke-width="0.9"/>
<text x="480" y="86.22" font-size="7" text-anchor="middle" fill="#494c94" stroke="#494c94" stroke-width="0.15">ns</text>
<rect x="494.6" y="86.7" width="6.4" height="6" fill="#cac8f6"/>
<text x="505" y="92" font-size="7.5" text-anchor="start" fill="#494c94" stroke="#494c94" stroke-width="0.15">Control</text>
<rect x="494.6" y="95.7" width="6.4" height="6" fill="#8fcbf5"/>
<text x="505" y="101" font-size="7.5" text-anchor="start" fill="#494c94" stroke="#494c94" stroke-width="0.15">eCO<tspan font-size="5.85" dy="1.5">2</tspan></text>
<rect x="494.6" y="104.7" width="6.4" height="6" fill="#4f8fc1"/>
<text x="505" y="110" font-size="7.5" text-anchor="start" fill="#494c94" stroke="#494c94" stroke-width="0.15">eO<tspan font-size="5.85" dy="1.5">3</tspan></text>
<rect x="494.6" y="113.7" width="6.4" height="6" fill="#5a5c98"/>
<text x="505" y="119" font-size="7.5" text-anchor="start" fill="#494c94" stroke="#494c94" stroke-width="0.15">eCO<tspan font-size="5.85" dy="1.5">2</tspan><tspan dy="-1.5"> + eO</tspan><tspan font-size="5.85" dy="1.5">3</tspan></text>
<text x="366.4" y="63.8" font-size="13" text-anchor="start" font-weight="bold" fill="#000">c</text>
<line x1="41.2" y1="294.4" x2="41.2" y2="291.6" stroke="#cac8f6" stroke-width="0.4425"/>
<line x1="39.96" y1="291.6" x2="42.44" y2="291.6" stroke="#cac8f6" stroke-width="0.4425"/>
<rect x="38.2" y="294.4" width="6" height="13.7" fill="#cac8f6"/>
<line x1="50.5" y1="291" x2="50.5" y2="287.7" stroke="#8fcbf5" stroke-width="0.4425"/>
<line x1="49.26" y1="287.7" x2="51.74" y2="287.7" stroke="#8fcbf5" stroke-width="0.4425"/>
<rect x="47.5" y="291" width="6" height="17.1" fill="#8fcbf5"/>
<line x1="59.4" y1="306.4" x2="59.4" y2="306.1" stroke="#4f8fc1" stroke-width="0.4425"/>
<line x1="58.16" y1="306.1" x2="60.64" y2="306.1" stroke="#4f8fc1" stroke-width="0.4425"/>
<rect x="56.4" y="306.4" width="6" height="1.7" fill="#4f8fc1"/>
<line x1="68.8" y1="299" x2="68.8" y2="296.2" stroke="#5a5c98" stroke-width="0.4425"/>
<line x1="67.56" y1="296.2" x2="70.04" y2="296.2" stroke="#5a5c98" stroke-width="0.4425"/>
<rect x="65.8" y="299" width="6" height="9.1" fill="#5a5c98"/>
<line x1="84.3" y1="269.8" x2="84.3" y2="264.3" stroke="#cac8f6" stroke-width="0.4425"/>
<line x1="83.06" y1="264.3" x2="85.54" y2="264.3" stroke="#cac8f6" stroke-width="0.4425"/>
<rect x="81.3" y="269.8" width="6" height="38.3" fill="#cac8f6"/>
<line x1="93.3" y1="300.8" x2="93.3" y2="300" stroke="#8fcbf5" stroke-width="0.4425"/>
<line x1="92.06" y1="300" x2="94.54" y2="300" stroke="#8fcbf5" stroke-width="0.4425"/>
<rect x="90.3" y="300.8" width="6" height="7.3" fill="#8fcbf5"/>
<line x1="102.7" y1="303" x2="102.7" y2="302.4" stroke="#4f8fc1" stroke-width="0.4425"/>
<line x1="101.46" y1="302.4" x2="103.94" y2="302.4" stroke="#4f8fc1" stroke-width="0.4425"/>
<rect x="99.7" y="303" width="6" height="5.1" fill="#4f8fc1"/>
<line x1="111.8" y1="285.6" x2="111.8" y2="282.3" stroke="#5a5c98" stroke-width="0.4425"/>
<line x1="110.56" y1="282.3" x2="113.04" y2="282.3" stroke="#5a5c98" stroke-width="0.4425"/>
<rect x="108.8" y="285.6" width="6" height="22.5" fill="#5a5c98"/>
<line x1="34.3" y1="251.9" x2="34.3" y2="308.5" stroke="#6b6db0" stroke-width="0.7965"/>
<line x1="33.9" y1="308.1" x2="118.5" y2="308.1" stroke="#6b6db0" stroke-width="0.7965"/>
<line x1="32" y1="308.1" x2="34.3" y2="308.1" stroke="#6b6db0" stroke-width="0.7965"/>
<text x="31.1" y="310.37" font-size="6.3" text-anchor="end" font-weight="bold" fill="#494c94">0</text>
<line x1="32" y1="294.15" x2="34.3" y2="294.15" stroke="#6b6db0" stroke-width="0.7965"/>
<text x="31.1" y="296.42" font-size="6.3" text-anchor="end" font-weight="bold" fill="#494c94">5</text>
<line x1="32" y1="280.2" x2="34.3" y2="280.2" stroke="#6b6db0" stroke-width="0.7965"/>
<text x="31.1" y="282.47" font-size="6.3" text-anchor="end" font-weight="bold" fill="#494c94">10</text>
<line x1="32" y1="266.25" x2="34.3" y2="266.25" stroke="#6b6db0" stroke-width="0.7965"/>
<text x="31.1" y="268.52" font-size="6.3" text-anchor="end" font-weight="bold" fill="#494c94">15</text>
<line x1="32" y1="252.3" x2="34.3" y2="252.3" stroke="#6b6db0" stroke-width="0.7965"/>
<text x="31.1" y="254.57" font-size="6.3" text-anchor="end" font-weight="bold" fill="#494c94">20</text>
<line x1="55" y1="308.1" x2="55" y2="310.05" stroke="#6b6db0" stroke-width="0.7965"/>
<text x="55" y="317.8" font-size="6.7" text-anchor="middle" font-weight="bold" fill="#494c94">NJ5055</text>
<line x1="98" y1="308.1" x2="98" y2="310.05" stroke="#6b6db0" stroke-width="0.7965"/>
<text x="98" y="317.8" font-size="6.7" text-anchor="middle" font-weight="bold" fill="#494c94">WYJ3</text>
<text transform="translate(20.3 323) rotate(-90)" font-size="6.75" font-weight="bold" fill="#494c94" textLength="68.7" lengthAdjust="spacing">White-base to Chalky</text>
<g transform="translate(20.3 254.2) rotate(-90)" font-size="6.75" fill="#494c94"><text x="-3.22" y="1" font-weight="bold">（</text><text x="7.4" y="0" font-weight="bold">%</text><text x="15.83" y="1" font-weight="bold">）</text></g>
<path d="M40.6 218V201H68V212" fill="none" stroke="#6b6db0" stroke-width="0.7965"/>
<text x="54.6" y="197.61" font-size="6.2" text-anchor="middle" fill="#494c94" stroke="#494c94" stroke-width="0.15">ns</text>
<path d="M50 219V215.6H68V247" fill="none" stroke="#6b6db0" stroke-width="0.7965"/>
<text x="56.81" y="214.69" font-size="8.85" text-anchor="middle" font-weight="bold" fill="#494c94" stroke="#494c94" stroke-width="0.31">*</text>
<text x="61.99" y="214.69" font-size="8.85" text-anchor="middle" font-weight="bold" fill="#494c94" stroke="#494c94" stroke-width="0.31">*</text>
<path d="M40.6 247V229.4H59.4V232.6" fill="none" stroke="#6b6db0" stroke-width="0.7965"/>
<text x="42.63" y="229.09" font-size="8.85" text-anchor="middle" font-weight="bold" fill="#494c94" stroke="#494c94" stroke-width="0.31">*</text>
<text x="47.81" y="229.09" font-size="8.85" text-anchor="middle" font-weight="bold" fill="#494c94" stroke="#494c94" stroke-width="0.31">*</text>
<text x="52.99" y="229.09" font-size="8.85" text-anchor="middle" font-weight="bold" fill="#494c94" stroke="#494c94" stroke-width="0.31">*</text>
<text x="58.17" y="229.09" font-size="8.85" text-anchor="middle" font-weight="bold" fill="#494c94" stroke="#494c94" stroke-width="0.31">*</text>
<path d="M50.8 247.6V245H59.4V247.6" fill="none" stroke="#6b6db0" stroke-width="0.7965"/>
<text x="47.23" y="244.09" font-size="8.85" text-anchor="middle" font-weight="bold" fill="#494c94" stroke="#494c94" stroke-width="0.31">*</text>
<text x="52.41" y="244.09" font-size="8.85" text-anchor="middle" font-weight="bold" fill="#494c94" stroke="#494c94" stroke-width="0.31">*</text>
<text x="57.59" y="244.09" font-size="8.85" text-anchor="middle" font-weight="bold" fill="#494c94" stroke="#494c94" stroke-width="0.31">*</text>
<text x="62.77" y="244.09" font-size="8.85" text-anchor="middle" font-weight="bold" fill="#494c94" stroke="#494c94" stroke-width="0.31">*</text>
<path d="M40.4 290V259.6H50.3V286" fill="none" stroke="#6b6db0" stroke-width="0.7965"/>
<text x="45.2" y="255.01" font-size="6.2" text-anchor="middle" fill="#494c94" stroke="#494c94" stroke-width="0.15">ns</text>
<path d="M59.4 304V259.6H68.4V294" fill="none" stroke="#6b6db0" stroke-width="0.7965"/>
<text x="61.01" y="257.69" font-size="8.85" text-anchor="middle" font-weight="bold" fill="#494c94" stroke="#494c94" stroke-width="0.31">*</text>
<text x="66.19" y="257.69" font-size="8.85" text-anchor="middle" font-weight="bold" fill="#494c94" stroke="#494c94" stroke-width="0.31">*</text>
<path d="M84 203V187H111.6V189.6" fill="none" stroke="#6b6db0" stroke-width="0.7965"/>
<text x="89.83" y="186.09" font-size="8.85" text-anchor="middle" font-weight="bold" fill="#494c94" stroke="#494c94" stroke-width="0.31">*</text>
<text x="95.01" y="186.09" font-size="8.85" text-anchor="middle" font-weight="bold" fill="#494c94" stroke="#494c94" stroke-width="0.31">*</text>
<text x="100.19" y="186.09" font-size="8.85" text-anchor="middle" font-weight="bold" fill="#494c94" stroke="#494c94" stroke-width="0.31">*</text>
<text x="105.37" y="186.09" font-size="8.85" text-anchor="middle" font-weight="bold" fill="#494c94" stroke="#494c94" stroke-width="0.31">*</text>
<path d="M93.4 204V201H111.6V218" fill="none" stroke="#6b6db0" stroke-width="0.7965"/>
<text x="94.83" y="200.29" font-size="8.85" text-anchor="middle" font-weight="bold" fill="#494c94" stroke="#494c94" stroke-width="0.31">*</text>
<text x="100.01" y="200.29" font-size="8.85" text-anchor="middle" font-weight="bold" fill="#494c94" stroke="#494c94" stroke-width="0.31">*</text>
<text x="105.19" y="200.29" font-size="8.85" text-anchor="middle" font-weight="bold" fill="#494c94" stroke="#494c94" stroke-width="0.31">*</text>
<text x="110.37" y="200.29" font-size="8.85" text-anchor="middle" font-weight="bold" fill="#494c94" stroke="#494c94" stroke-width="0.31">*</text>
<path d="M84 247V215.6H102.6V218.6" fill="none" stroke="#6b6db0" stroke-width="0.7965"/>
<text x="85.23" y="215.09" font-size="8.85" text-anchor="middle" font-weight="bold" fill="#494c94" stroke="#494c94" stroke-width="0.31">*</text>
<text x="90.41" y="215.09" font-size="8.85" text-anchor="middle" font-weight="bold" fill="#494c94" stroke="#494c94" stroke-width="0.31">*</text>
<text x="95.59" y="215.09" font-size="8.85" text-anchor="middle" font-weight="bold" fill="#494c94" stroke="#494c94" stroke-width="0.31">*</text>
<text x="100.77" y="215.09" font-size="8.85" text-anchor="middle" font-weight="bold" fill="#494c94" stroke="#494c94" stroke-width="0.31">*</text>
<path d="M103 247V229.4H111.8V278" fill="none" stroke="#6b6db0" stroke-width="0.7965"/>
<text x="99.63" y="229.09" font-size="8.85" text-anchor="middle" font-weight="bold" fill="#494c94" stroke="#494c94" stroke-width="0.31">*</text>
<text x="104.81" y="229.09" font-size="8.85" text-anchor="middle" font-weight="bold" fill="#494c94" stroke="#494c94" stroke-width="0.31">*</text>
<text x="109.99" y="229.09" font-size="8.85" text-anchor="middle" font-weight="bold" fill="#494c94" stroke="#494c94" stroke-width="0.31">*</text>
<text x="115.17" y="229.09" font-size="8.85" text-anchor="middle" font-weight="bold" fill="#494c94" stroke="#494c94" stroke-width="0.31">*</text>
<path d="M93.4 247.6V245H102.4V299" fill="none" stroke="#6b6db0" stroke-width="0.7965"/>
<text x="98" y="241.01" font-size="6.2" text-anchor="middle" fill="#494c94" stroke="#494c94" stroke-width="0.15">ns</text>
<path d="M84 264V259.6H93.2V297" fill="none" stroke="#6b6db0" stroke-width="0.7965"/>
<text x="80.83" y="257.69" font-size="8.85" text-anchor="middle" font-weight="bold" fill="#494c94" stroke="#494c94" stroke-width="0.31">*</text>
<text x="86.01" y="257.69" font-size="8.85" text-anchor="middle" font-weight="bold" fill="#494c94" stroke="#494c94" stroke-width="0.31">*</text>
<text x="91.19" y="257.69" font-size="8.85" text-anchor="middle" font-weight="bold" fill="#494c94" stroke="#494c94" stroke-width="0.31">*</text>
<text x="96.37" y="257.69" font-size="8.85" text-anchor="middle" font-weight="bold" fill="#494c94" stroke="#494c94" stroke-width="0.31">*</text>
<rect x="120.6" y="255" width="5.5" height="5.1" fill="#cac8f6"/>
<text x="130" y="259.53" font-size="6.6" text-anchor="start" fill="#494c94" stroke="#494c94" stroke-width="0.15">Control</text>
<rect x="120.6" y="263.2" width="5.5" height="5.1" fill="#8fcbf5"/>
<text x="130" y="267.73" font-size="6.6" text-anchor="start" fill="#494c94" stroke="#494c94" stroke-width="0.15">eCO<tspan font-size="5.15" dy="1.32">2</tspan></text>
<rect x="120.6" y="271.4" width="5.5" height="5.1" fill="#4f8fc1"/>
<text x="130" y="275.93" font-size="6.6" text-anchor="start" fill="#494c94" stroke="#494c94" stroke-width="0.15">eO<tspan font-size="5.15" dy="1.32">3</tspan></text>
<rect x="120.6" y="279.5" width="5.5" height="5.1" fill="#5a5c98"/>
<text x="130" y="284.03" font-size="6.6" text-anchor="start" fill="#494c94" stroke="#494c94" stroke-width="0.15">eCO<tspan font-size="5.15" dy="1.32">2</tspan><tspan dy="-1.32"> + eO</tspan><tspan font-size="5.15" dy="1.32">3</tspan></text>
<text x="7.6" y="226.5" font-size="13" text-anchor="start" font-weight="bold" fill="#000">d</text>
<line x1="218" y1="264" x2="218" y2="259.8" stroke="#cac8f6" stroke-width="0.4425"/>
<line x1="216.76" y1="259.8" x2="219.24" y2="259.8" stroke="#cac8f6" stroke-width="0.4425"/>
<rect x="215" y="264" width="6" height="44.1" fill="#cac8f6"/>
<line x1="227.2" y1="291" x2="227.2" y2="288.7" stroke="#8fcbf5" stroke-width="0.4425"/>
<line x1="225.96" y1="288.7" x2="228.44" y2="288.7" stroke="#8fcbf5" stroke-width="0.4425"/>
<rect x="224.2" y="291" width="6" height="17.1" fill="#8fcbf5"/>
<line x1="236.8" y1="261.8" x2="236.8" y2="256.8" stroke="#4f8fc1" stroke-width="0.4425"/>
<line x1="235.56" y1="256.8" x2="238.04" y2="256.8" stroke="#4f8fc1" stroke-width="0.4425"/>
<rect x="233.8" y="261.8" width="6" height="46.3" fill="#4f8fc1"/>
<line x1="246.2" y1="284" x2="246.2" y2="281.4" stroke="#5a5c98" stroke-width="0.4425"/>
<line x1="244.96" y1="281.4" x2="247.44" y2="281.4" stroke="#5a5c98" stroke-width="0.4425"/>
<rect x="243.2" y="284" width="6" height="24.1" fill="#5a5c98"/>
<line x1="261.8" y1="275" x2="261.8" y2="273.4" stroke="#cac8f6" stroke-width="0.4425"/>
<line x1="260.56" y1="273.4" x2="263.04" y2="273.4" stroke="#cac8f6" stroke-width="0.4425"/>
<rect x="258.8" y="275" width="6" height="33.1" fill="#cac8f6"/>
<line x1="271.2" y1="257.6" x2="271.2" y2="256.2" stroke="#8fcbf5" stroke-width="0.4425"/>
<line x1="269.96" y1="256.2" x2="272.44" y2="256.2" stroke="#8fcbf5" stroke-width="0.4425"/>
<rect x="268.2" y="257.6" width="6" height="50.5" fill="#8fcbf5"/>
<line x1="280.6" y1="265.2" x2="280.6" y2="264.1" stroke="#4f8fc1" stroke-width="0.4425"/>
<line x1="279.36" y1="264.1" x2="281.84" y2="264.1" stroke="#4f8fc1" stroke-width="0.4425"/>
<rect x="277.6" y="265.2" width="6" height="42.9" fill="#4f8fc1"/>
<line x1="290" y1="270.5" x2="290" y2="266.7" stroke="#5a5c98" stroke-width="0.4425"/>
<line x1="288.76" y1="266.7" x2="291.24" y2="266.7" stroke="#5a5c98" stroke-width="0.4425"/>
<rect x="287" y="270.5" width="6" height="37.6" fill="#5a5c98"/>
<line x1="211.8" y1="251.3" x2="211.8" y2="308.5" stroke="#6b6db0" stroke-width="0.7965"/>
<line x1="211.4" y1="308.1" x2="296.5" y2="308.1" stroke="#6b6db0" stroke-width="0.7965"/>
<line x1="209.5" y1="308.1" x2="211.8" y2="308.1" stroke="#6b6db0" stroke-width="0.7965"/>
<text x="208.6" y="310.37" font-size="6.3" text-anchor="end" font-weight="bold" fill="#494c94">0</text>
<line x1="209.5" y1="289.3" x2="211.8" y2="289.3" stroke="#6b6db0" stroke-width="0.7965"/>
<text x="208.6" y="291.57" font-size="6.3" text-anchor="end" font-weight="bold" fill="#494c94">20</text>
<line x1="209.5" y1="270.5" x2="211.8" y2="270.5" stroke="#6b6db0" stroke-width="0.7965"/>
<text x="208.6" y="272.77" font-size="6.3" text-anchor="end" font-weight="bold" fill="#494c94">40</text>
<line x1="209.5" y1="251.7" x2="211.8" y2="251.7" stroke="#6b6db0" stroke-width="0.7965"/>
<text x="208.6" y="253.97" font-size="6.3" text-anchor="end" font-weight="bold" fill="#494c94">60</text>
<line x1="232" y1="308.1" x2="232" y2="310.05" stroke="#6b6db0" stroke-width="0.7965"/>
<text x="232" y="317.6" font-size="6.7" text-anchor="middle" font-weight="bold" fill="#494c94">NJ5055</text>
<line x1="275.6" y1="308.1" x2="275.6" y2="310.05" stroke="#6b6db0" stroke-width="0.7965"/>
<text x="275.6" y="317.6" font-size="6.7" text-anchor="middle" font-weight="bold" fill="#494c94">WYJ3</text>
<text transform="translate(197.3 323) rotate(-90)" font-size="6.75" font-weight="bold" fill="#494c94" textLength="68.7" lengthAdjust="spacing">White-belly to Chalky</text>
<g transform="translate(197.3 254.2) rotate(-90)" font-size="6.75" fill="#494c94"><text x="-3.22" y="1" font-weight="bold">（</text><text x="7.4" y="0" font-weight="bold">%</text><text x="15.83" y="1" font-weight="bold">）</text></g>
<path d="M217.4 202V176.4H246V187" fill="none" stroke="#6b6db0" stroke-width="0.7965"/>
<text x="224.23" y="175.69" font-size="8.85" text-anchor="middle" font-weight="bold" fill="#494c94" stroke="#494c94" stroke-width="0.31">*</text>
<text x="229.41" y="175.69" font-size="8.85" text-anchor="middle" font-weight="bold" fill="#494c94" stroke="#494c94" stroke-width="0.31">*</text>
<text x="234.59" y="175.69" font-size="8.85" text-anchor="middle" font-weight="bold" fill="#494c94" stroke="#494c94" stroke-width="0.31">*</text>
<text x="239.77" y="175.69" font-size="8.85" text-anchor="middle" font-weight="bold" fill="#494c94" stroke="#494c94" stroke-width="0.31">*</text>
<path d="M227 194V191H246V208" fill="none" stroke="#6b6db0" stroke-width="0.7965"/>
<text x="236.4" y="190.29" font-size="8.85" text-anchor="middle" font-weight="bold" fill="#494c94" stroke="#494c94" stroke-width="0.31">*</text>
<path d="M217.4 237V205.6H236.4V208.6" fill="none" stroke="#6b6db0" stroke-width="0.7965"/>
<text x="227" y="201.61" font-size="6.2" text-anchor="middle" fill="#494c94" stroke="#494c94" stroke-width="0.15">ns</text>
<path d="M236.5 254.5V220H246.1V278.5" fill="none" stroke="#6b6db0" stroke-width="0.7965"/>
<text x="233.63" y="219.09" font-size="8.85" text-anchor="middle" font-weight="bold" fill="#494c94" stroke="#494c94" stroke-width="0.31">*</text>
<text x="238.81" y="219.09" font-size="8.85" text-anchor="middle" font-weight="bold" fill="#494c94" stroke="#494c94" stroke-width="0.31">*</text>
<text x="243.99" y="219.09" font-size="8.85" text-anchor="middle" font-weight="bold" fill="#494c94" stroke="#494c94" stroke-width="0.31">*</text>
<text x="249.17" y="219.09" font-size="8.85" text-anchor="middle" font-weight="bold" fill="#494c94" stroke="#494c94" stroke-width="0.31">*</text>
<path d="M227.2 285V235H236.5V238" fill="none" stroke="#6b6db0" stroke-width="0.7965"/>
<text x="224.23" y="234.69" font-size="8.85" text-anchor="middle" font-weight="bold" fill="#494c94" stroke="#494c94" stroke-width="0.31">*</text>
<text x="229.41" y="234.69" font-size="8.85" text-anchor="middle" font-weight="bold" fill="#494c94" stroke="#494c94" stroke-width="0.31">*</text>
<text x="234.59" y="234.69" font-size="8.85" text-anchor="middle" font-weight="bold" fill="#494c94" stroke="#494c94" stroke-width="0.31">*</text>
<text x="239.77" y="234.69" font-size="8.85" text-anchor="middle" font-weight="bold" fill="#494c94" stroke="#494c94" stroke-width="0.31">*</text>
<path d="M217.5 257.5V249.6H227.2V285" fill="none" stroke="#6b6db0" stroke-width="0.7965"/>
<text x="214.23" y="248.69" font-size="8.85" text-anchor="middle" font-weight="bold" fill="#494c94" stroke="#494c94" stroke-width="0.31">*</text>
<text x="219.41" y="248.69" font-size="8.85" text-anchor="middle" font-weight="bold" fill="#494c94" stroke="#494c94" stroke-width="0.31">*</text>
<text x="224.59" y="248.69" font-size="8.85" text-anchor="middle" font-weight="bold" fill="#494c94" stroke="#494c94" stroke-width="0.31">*</text>
<text x="229.77" y="248.69" font-size="8.85" text-anchor="middle" font-weight="bold" fill="#494c94" stroke="#494c94" stroke-width="0.31">*</text>
<path d="M261.4 216V191H290V193.6" fill="none" stroke="#6b6db0" stroke-width="0.7965"/>
<text x="275.6" y="187.21" font-size="6.2" text-anchor="middle" fill="#494c94" stroke="#494c94" stroke-width="0.15">ns</text>
<path d="M271 208.6V205.6H290V238" fill="none" stroke="#6b6db0" stroke-width="0.7965"/>
<text x="275.42" y="204.69" font-size="8.85" text-anchor="middle" font-weight="bold" fill="#494c94" stroke="#494c94" stroke-width="0.31">*</text>
<text x="280.6" y="204.69" font-size="8.85" text-anchor="middle" font-weight="bold" fill="#494c94" stroke="#494c94" stroke-width="0.31">*</text>
<text x="285.78" y="204.69" font-size="8.85" text-anchor="middle" font-weight="bold" fill="#494c94" stroke="#494c94" stroke-width="0.31">*</text>
<path d="M261.4 238V220H280.6V223" fill="none" stroke="#6b6db0" stroke-width="0.7965"/>
<text x="268.41" y="219.09" font-size="8.85" text-anchor="middle" font-weight="bold" fill="#494c94" stroke="#494c94" stroke-width="0.31">*</text>
<text x="273.59" y="219.09" font-size="8.85" text-anchor="middle" font-weight="bold" fill="#494c94" stroke="#494c94" stroke-width="0.31">*</text>
<path d="M271.6 238V235H280.6V238" fill="none" stroke="#6b6db0" stroke-width="0.7965"/>
<text x="275.6" y="234.09" font-size="8.85" text-anchor="middle" font-weight="bold" fill="#494c94" stroke="#494c94" stroke-width="0.31">*</text>
<path d="M261.4 273V249.6H271V253.5" fill="none" stroke="#6b6db0" stroke-width="0.7965"/>
<text x="258.23" y="248.69" font-size="8.85" text-anchor="middle" font-weight="bold" fill="#494c94" stroke="#494c94" stroke-width="0.31">*</text>
<text x="263.41" y="248.69" font-size="8.85" text-anchor="middle" font-weight="bold" fill="#494c94" stroke="#494c94" stroke-width="0.31">*</text>
<text x="268.59" y="248.69" font-size="8.85" text-anchor="middle" font-weight="bold" fill="#494c94" stroke="#494c94" stroke-width="0.31">*</text>
<text x="273.77" y="248.69" font-size="8.85" text-anchor="middle" font-weight="bold" fill="#494c94" stroke="#494c94" stroke-width="0.31">*</text>
<path d="M281 263V249.6H290V264" fill="none" stroke="#6b6db0" stroke-width="0.7965"/>
<text x="285" y="245.61" font-size="6.2" text-anchor="middle" fill="#494c94" stroke="#494c94" stroke-width="0.15">ns</text>
<rect x="299" y="254.2" width="5.5" height="5.1" fill="#cac8f6"/>
<text x="308" y="258.73" font-size="6.6" text-anchor="start" fill="#494c94" stroke="#494c94" stroke-width="0.15">Control</text>
<rect x="299" y="262.4" width="5.5" height="5.1" fill="#8fcbf5"/>
<text x="308" y="266.93" font-size="6.6" text-anchor="start" fill="#494c94" stroke="#494c94" stroke-width="0.15">eCO<tspan font-size="5.15" dy="1.32">2</tspan></text>
<rect x="299" y="270.6" width="5.5" height="5.1" fill="#4f8fc1"/>
<text x="308" y="275.13" font-size="6.6" text-anchor="start" fill="#494c94" stroke="#494c94" stroke-width="0.15">eO<tspan font-size="5.15" dy="1.32">3</tspan></text>
<rect x="299" y="278.8" width="5.5" height="5.1" fill="#5a5c98"/>
<text x="308" y="283.33" font-size="6.6" text-anchor="start" fill="#494c94" stroke="#494c94" stroke-width="0.15">eCO<tspan font-size="5.15" dy="1.32">2</tspan><tspan dy="-1.32"> + eO</tspan><tspan font-size="5.15" dy="1.32">3</tspan></text>
<text x="180" y="226.8" font-size="13" text-anchor="start" font-weight="bold" fill="#000">e</text>
<line x1="404.5" y1="294.6" x2="404.5" y2="291.4" stroke="#cac8f6" stroke-width="0.4425"/>
<line x1="403.26" y1="291.4" x2="405.74" y2="291.4" stroke="#cac8f6" stroke-width="0.4425"/>
<rect x="401.5" y="294.6" width="6" height="13.5" fill="#cac8f6"/>
<line x1="414" y1="261.6" x2="414" y2="260.2" stroke="#8fcbf5" stroke-width="0.4425"/>
<line x1="412.76" y1="260.2" x2="415.24" y2="260.2" stroke="#8fcbf5" stroke-width="0.4425"/>
<rect x="411" y="261.6" width="6" height="46.5" fill="#8fcbf5"/>
<line x1="423.2" y1="293.6" x2="423.2" y2="291.3" stroke="#4f8fc1" stroke-width="0.4425"/>
<line x1="421.96" y1="291.3" x2="424.44" y2="291.3" stroke="#4f8fc1" stroke-width="0.4425"/>
<rect x="420.2" y="293.6" width="6" height="14.5" fill="#4f8fc1"/>
<line x1="432.8" y1="273" x2="432.8" y2="269.8" stroke="#5a5c98" stroke-width="0.4425"/>
<line x1="431.56" y1="269.8" x2="434.04" y2="269.8" stroke="#5a5c98" stroke-width="0.4425"/>
<rect x="429.8" y="273" width="6" height="35.1" fill="#5a5c98"/>
<line x1="448.2" y1="293" x2="448.2" y2="292.1" stroke="#cac8f6" stroke-width="0.4425"/>
<line x1="446.96" y1="292.1" x2="449.44" y2="292.1" stroke="#cac8f6" stroke-width="0.4425"/>
<rect x="445.2" y="293" width="6" height="15.1" fill="#cac8f6"/>
<line x1="457.8" y1="287" x2="457.8" y2="285.1" stroke="#8fcbf5" stroke-width="0.4425"/>
<line x1="456.56" y1="285.1" x2="459.04" y2="285.1" stroke="#8fcbf5" stroke-width="0.4425"/>
<rect x="454.8" y="287" width="6" height="21.1" fill="#8fcbf5"/>
<line x1="467.2" y1="302.6" x2="467.2" y2="301.9" stroke="#4f8fc1" stroke-width="0.4425"/>
<line x1="465.96" y1="301.9" x2="468.44" y2="301.9" stroke="#4f8fc1" stroke-width="0.4425"/>
<rect x="464.2" y="302.6" width="6" height="5.5" fill="#4f8fc1"/>
<line x1="476.6" y1="302" x2="476.6" y2="300.6" stroke="#5a5c98" stroke-width="0.4425"/>
<line x1="475.36" y1="300.6" x2="477.84" y2="300.6" stroke="#5a5c98" stroke-width="0.4425"/>
<rect x="473.6" y="302" width="6" height="6.1" fill="#5a5c98"/>
<line x1="398.3" y1="251.3" x2="398.3" y2="308.5" stroke="#6b6db0" stroke-width="0.7965"/>
<line x1="397.9" y1="308.1" x2="483" y2="308.1" stroke="#6b6db0" stroke-width="0.7965"/>
<line x1="396" y1="308.1" x2="398.3" y2="308.1" stroke="#6b6db0" stroke-width="0.7965"/>
<text x="395.1" y="310.37" font-size="6.3" text-anchor="end" font-weight="bold" fill="#494c94">0</text>
<line x1="396" y1="289.3" x2="398.3" y2="289.3" stroke="#6b6db0" stroke-width="0.7965"/>
<text x="395.1" y="291.57" font-size="6.3" text-anchor="end" font-weight="bold" fill="#494c94">20</text>
<line x1="396" y1="270.5" x2="398.3" y2="270.5" stroke="#6b6db0" stroke-width="0.7965"/>
<text x="395.1" y="272.77" font-size="6.3" text-anchor="end" font-weight="bold" fill="#494c94">40</text>
<line x1="396" y1="251.7" x2="398.3" y2="251.7" stroke="#6b6db0" stroke-width="0.7965"/>
<text x="395.1" y="253.97" font-size="6.3" text-anchor="end" font-weight="bold" fill="#494c94">60</text>
<line x1="418.4" y1="308.1" x2="418.4" y2="310.05" stroke="#6b6db0" stroke-width="0.7965"/>
<text x="418.4" y="317.6" font-size="6.7" text-anchor="middle" font-weight="bold" fill="#494c94">NJ5055</text>
<line x1="462.4" y1="308.1" x2="462.4" y2="310.05" stroke="#6b6db0" stroke-width="0.7965"/>
<text x="462.4" y="317.6" font-size="6.7" text-anchor="middle" font-weight="bold" fill="#494c94">WYJ3</text>
<text transform="translate(384.3 322.6) rotate(-90)" font-size="6.75" font-weight="bold" fill="#494c94" textLength="68.3" lengthAdjust="spacing">White-core to Chalky</text>
<g transform="translate(384.3 254.2) rotate(-90)" font-size="6.75" fill="#494c94"><text x="-3.22" y="1" font-weight="bold">（</text><text x="7.4" y="0" font-weight="bold">%</text><text x="15.83" y="1" font-weight="bold">）</text></g>
<path d="M404.4 205V179.4H433V182.4" fill="none" stroke="#6b6db0" stroke-width="0.7965"/>
<text x="410.83" y="179.09" font-size="8.85" text-anchor="middle" font-weight="bold" fill="#494c94" stroke="#494c94" stroke-width="0.31">*</text>
<text x="416.01" y="179.09" font-size="8.85" text-anchor="middle" font-weight="bold" fill="#494c94" stroke="#494c94" stroke-width="0.31">*</text>
<text x="421.19" y="179.09" font-size="8.85" text-anchor="middle" font-weight="bold" fill="#494c94" stroke="#494c94" stroke-width="0.31">*</text>
<text x="426.37" y="179.09" font-size="8.85" text-anchor="middle" font-weight="bold" fill="#494c94" stroke="#494c94" stroke-width="0.31">*</text>
<path d="M413.6 197.4V194.4H433V212.4" fill="none" stroke="#6b6db0" stroke-width="0.7965"/>
<text x="415.63" y="193.69" font-size="8.85" text-anchor="middle" font-weight="bold" fill="#494c94" stroke="#494c94" stroke-width="0.31">*</text>
<text x="420.81" y="193.69" font-size="8.85" text-anchor="middle" font-weight="bold" fill="#494c94" stroke="#494c94" stroke-width="0.31">*</text>
<text x="425.99" y="193.69" font-size="8.85" text-anchor="middle" font-weight="bold" fill="#494c94" stroke="#494c94" stroke-width="0.31">*</text>
<text x="431.17" y="193.69" font-size="8.85" text-anchor="middle" font-weight="bold" fill="#494c94" stroke="#494c94" stroke-width="0.31">*</text>
<path d="M404.4 241V208.6H423.4V211.6" fill="none" stroke="#6b6db0" stroke-width="0.7965"/>
<text x="414" y="205.21" font-size="6.2" text-anchor="middle" fill="#494c94" stroke="#494c94" stroke-width="0.15">ns</text>
<path d="M423.8 241V223.4H433V268" fill="none" stroke="#6b6db0" stroke-width="0.7965"/>
<text x="420.23" y="223.09" font-size="8.85" text-anchor="middle" font-weight="bold" fill="#494c94" stroke="#494c94" stroke-width="0.31">*</text>
<text x="425.41" y="223.09" font-size="8.85" text-anchor="middle" font-weight="bold" fill="#494c94" stroke="#494c94" stroke-width="0.31">*</text>
<text x="430.59" y="223.09" font-size="8.85" text-anchor="middle" font-weight="bold" fill="#494c94" stroke="#494c94" stroke-width="0.31">*</text>
<text x="435.77" y="223.09" font-size="8.85" text-anchor="middle" font-weight="bold" fill="#494c94" stroke="#494c94" stroke-width="0.31">*</text>
<path d="M413.6 241V238H423.6V289" fill="none" stroke="#6b6db0" stroke-width="0.7965"/>
<text x="410.83" y="237.29" font-size="8.85" text-anchor="middle" font-weight="bold" fill="#494c94" stroke="#494c94" stroke-width="0.31">*</text>
<text x="416.01" y="237.29" font-size="8.85" text-anchor="middle" font-weight="bold" fill="#494c94" stroke="#494c94" stroke-width="0.31">*</text>
<text x="421.19" y="237.29" font-size="8.85" text-anchor="middle" font-weight="bold" fill="#494c94" stroke="#494c94" stroke-width="0.31">*</text>
<text x="426.37" y="237.29" font-size="8.85" text-anchor="middle" font-weight="bold" fill="#494c94" stroke="#494c94" stroke-width="0.31">*</text>
<path d="M404.4 288V253H413.6V256" fill="none" stroke="#6b6db0" stroke-width="0.7965"/>
<text x="401.23" y="252.09" font-size="8.85" text-anchor="middle" font-weight="bold" fill="#494c94" stroke="#494c94" stroke-width="0.31">*</text>
<text x="406.41" y="252.09" font-size="8.85" text-anchor="middle" font-weight="bold" fill="#494c94" stroke="#494c94" stroke-width="0.31">*</text>
<text x="411.59" y="252.09" font-size="8.85" text-anchor="middle" font-weight="bold" fill="#494c94" stroke="#494c94" stroke-width="0.31">*</text>
<text x="416.77" y="252.09" font-size="8.85" text-anchor="middle" font-weight="bold" fill="#494c94" stroke="#494c94" stroke-width="0.31">*</text>
<path d="M448.4 211V194.4H477V197.4" fill="none" stroke="#6b6db0" stroke-width="0.7965"/>
<text x="454.83" y="193.69" font-size="8.85" text-anchor="middle" font-weight="bold" fill="#494c94" stroke="#494c94" stroke-width="0.31">*</text>
<text x="460.01" y="193.69" font-size="8.85" text-anchor="middle" font-weight="bold" fill="#494c94" stroke="#494c94" stroke-width="0.31">*</text>
<text x="465.19" y="193.69" font-size="8.85" text-anchor="middle" font-weight="bold" fill="#494c94" stroke="#494c94" stroke-width="0.31">*</text>
<text x="470.37" y="193.69" font-size="8.85" text-anchor="middle" font-weight="bold" fill="#494c94" stroke="#494c94" stroke-width="0.31">*</text>
<path d="M457.6 211.6V208.6H477V241" fill="none" stroke="#6b6db0" stroke-width="0.7965"/>
<text x="459.63" y="208.29" font-size="8.85" text-anchor="middle" font-weight="bold" fill="#494c94" stroke="#494c94" stroke-width="0.31">*</text>
<text x="464.81" y="208.29" font-size="8.85" text-anchor="middle" font-weight="bold" fill="#494c94" stroke="#494c94" stroke-width="0.31">*</text>
<text x="469.99" y="208.29" font-size="8.85" text-anchor="middle" font-weight="bold" fill="#494c94" stroke="#494c94" stroke-width="0.31">*</text>
<text x="475.17" y="208.29" font-size="8.85" text-anchor="middle" font-weight="bold" fill="#494c94" stroke="#494c94" stroke-width="0.31">*</text>
<path d="M448.4 241V223.4H467.2V226.4" fill="none" stroke="#6b6db0" stroke-width="0.7965"/>
<text x="449.83" y="223.09" font-size="8.85" text-anchor="middle" font-weight="bold" fill="#494c94" stroke="#494c94" stroke-width="0.31">*</text>
<text x="455.01" y="223.09" font-size="8.85" text-anchor="middle" font-weight="bold" fill="#494c94" stroke="#494c94" stroke-width="0.31">*</text>
<text x="460.19" y="223.09" font-size="8.85" text-anchor="middle" font-weight="bold" fill="#494c94" stroke="#494c94" stroke-width="0.31">*</text>
<text x="465.37" y="223.09" font-size="8.85" text-anchor="middle" font-weight="bold" fill="#494c94" stroke="#494c94" stroke-width="0.31">*</text>
<path d="M457.6 241V238H467V241" fill="none" stroke="#6b6db0" stroke-width="0.7965"/>
<text x="454.63" y="237.29" font-size="8.85" text-anchor="middle" font-weight="bold" fill="#494c94" stroke="#494c94" stroke-width="0.31">*</text>
<text x="459.81" y="237.29" font-size="8.85" text-anchor="middle" font-weight="bold" fill="#494c94" stroke="#494c94" stroke-width="0.31">*</text>
<text x="464.99" y="237.29" font-size="8.85" text-anchor="middle" font-weight="bold" fill="#494c94" stroke="#494c94" stroke-width="0.31">*</text>
<text x="470.17" y="237.29" font-size="8.85" text-anchor="middle" font-weight="bold" fill="#494c94" stroke="#494c94" stroke-width="0.31">*</text>
<path d="M448.4 290V253H457.6V283" fill="none" stroke="#6b6db0" stroke-width="0.7965"/>
<text x="450.41" y="252.09" font-size="8.85" text-anchor="middle" font-weight="bold" fill="#494c94" stroke="#494c94" stroke-width="0.31">*</text>
<text x="455.59" y="252.09" font-size="8.85" text-anchor="middle" font-weight="bold" fill="#494c94" stroke="#494c94" stroke-width="0.31">*</text>
<path d="M467 299V253H477V298" fill="none" stroke="#6b6db0" stroke-width="0.7965"/>
<text x="472" y="249.01" font-size="6.2" text-anchor="middle" fill="#494c94" stroke="#494c94" stroke-width="0.15">ns</text>
<rect x="485.6" y="254.4" width="5.5" height="5.1" fill="#cac8f6"/>
<text x="495" y="258.93" font-size="6.6" text-anchor="start" fill="#494c94" stroke="#494c94" stroke-width="0.15">Control</text>
<rect x="485.6" y="262.6" width="5.5" height="5.1" fill="#8fcbf5"/>
<text x="495" y="267.13" font-size="6.6" text-anchor="start" fill="#494c94" stroke="#494c94" stroke-width="0.15">eCO<tspan font-size="5.15" dy="1.32">2</tspan></text>
<rect x="485.6" y="270.8" width="5.5" height="5.1" fill="#4f8fc1"/>
<text x="495" y="275.33" font-size="6.6" text-anchor="start" fill="#494c94" stroke="#494c94" stroke-width="0.15">eO<tspan font-size="5.15" dy="1.32">3</tspan></text>
<rect x="485.6" y="279" width="5.5" height="5.1" fill="#5a5c98"/>
<text x="495" y="283.53" font-size="6.6" text-anchor="start" fill="#494c94" stroke="#494c94" stroke-width="0.15">eCO<tspan font-size="5.15" dy="1.32">2</tspan><tspan dy="-1.32"> + eO</tspan><tspan font-size="5.15" dy="1.32">3</tspan></text>
<text x="366" y="226.6" font-size="13" text-anchor="start" font-weight="bold" fill="#000">f</text>
</g>
</svg>
</body></html>
